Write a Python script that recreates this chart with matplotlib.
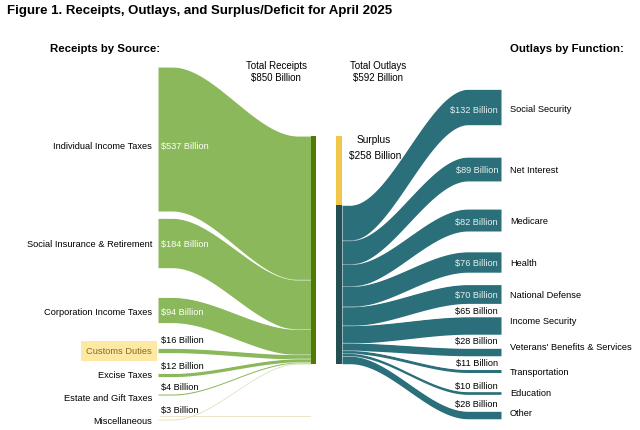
import matplotlib.pyplot as plt
import numpy as np

plt.rcParams["font.family"] = ["Liberation Sans", "DejaVu Sans"]

# Receipts by source, $ billions
receipt_names = [
    "Individual Income Taxes",
    "Social Insurance & Retirement",
    "Corporation Income Taxes",
    "Customs Duties",
    "Excise Taxes",
    "Estate and Gift Taxes",
    "Miscellaneous",
]
receipt_vals = [537, 184, 94, 16, 12, 4, 3]

# Outlays by function, $ billions
outlay_names = [
    "Social Security",
    "Net Interest",
    "Medicare",
    "Health",
    "National Defense",
    "Income Security",
    "Veterans' Benefits & Services",
    "Transportation",
    "Education",
    "Other",
]
outlay_vals = [132, 89, 82, 76, 70, 65, 28, 11, 10, 28]

total_receipts = 850
total_outlays = 592
surplus = 258

# colours
GREEN = "#8cb85c"
GREEN_LIGHT = "#cfe0b6"
GREEN_DARK = "#4e7a05"
TEAL = "#2a6f7a"
TEAL_DARK = "#234e52"
YELLOW = "#f0c74a"

# layout (pixel-like coordinates, y downwards)
S = 228.0 / total_receipts  # px per $billion
bar_top = 137
left_node_x = 158
recv_bar_x = 311
out_bar_x = 342
right_node_x = 501
left_centers = [140, 244, 311, 351.5, 376, 395.5, 420.5]
left_label_y = [147, 245, 313, 352, 376, 399, 422]
left_value_y = [147, 245, 313, 341, 367, 388, 411]
right_centers = [108, 170, 221, 263, 295, 326.5, 353, 372, 394, 416]
right_label_y = [110, 171, 222, 264, 296, 322, 348, 373, 394, 414]
right_value_y = [111, 171, 223, 264, 296, 312, 342, 364, 387, 405]


def smooth(x, xa, xb, ya, yb):
    t = np.clip((x - xa) / (xb - xa), 0, 1)
    s = 3 * t ** 2 - 2 * t ** 3
    return ya + (yb - ya) * s


def band(ax, xs, xa, xb, y0, y1, h, color):
    top = smooth(xs, xa, xb, y0, y1)
    ax.fill_between(xs, top, top + h, color=color, lw=0, zorder=2)
    # faint seam between neighbouring flows
    ax.plot(xs, top, color="white", lw=0.35, alpha=0.7, zorder=2.5)


fig = plt.figure(figsize=(6.4, 4.31), dpi=100)
ax = fig.add_axes([0, 0, 1, 1])
ax.set_xlim(0, 640)
ax.set_ylim(431, 0)
ax.axis("off")

# receipts flows
xs = np.linspace(left_node_x, recv_bar_x, 300)
y_bar = bar_top
for i, v in enumerate(receipt_vals):
    h = v * S
    col = GREEN_LIGHT if receipt_names[i] == "Miscellaneous" else GREEN
    band(ax, xs, 172, 298, left_centers[i] - h / 2, y_bar, max(h, 0.8), col)
    y_bar += h
ax.plot([160, 310], [417, 417], color="#eee5c8", lw=0.7, zorder=1)
ax.fill_between([recv_bar_x, recv_bar_x + 5], bar_top, bar_top + total_receipts * S,
                color=GREEN_DARK, lw=0, zorder=3)

# outlays bar
ax.fill_between([out_bar_x - 6, out_bar_x], bar_top, bar_top + surplus * S,
                color=YELLOW, lw=0, zorder=3)
ax.fill_between([out_bar_x - 6, out_bar_x], bar_top + surplus * S,
                bar_top + (surplus + total_outlays) * S, color=TEAL_DARK, lw=0, zorder=3)

# outlay flows
xs = np.linspace(out_bar_x, right_node_x, 300)
y_bar = bar_top + surplus * S
for j, v in enumerate(outlay_vals):
    h = v * S
    band(ax, xs, 350, 468, y_bar, right_centers[j] - h / 2, h, TEAL)
    y_bar += h

# titles
ax.text(7, 11, "Figure 1. Receipts, Outlays, and Surplus/Deficit for April 2025",
        fontsize=9.5, fontweight="bold", va="center", ha="left")
ax.text(105, 49, "Receipts by Source:", fontsize=8.2, fontweight="bold", ha="center", va="center")
ax.text(567, 49, "Outlays by Function:", fontsize=8.2, fontweight="bold", ha="center", va="center")
ax.text(276, 72, "Total Receipts\n$%d Billion" % total_receipts, fontsize=7, ha="center",
        va="center", linespacing=1.3)
ax.text(378, 72, "Total Outlays\n$%d Billion" % total_outlays, fontsize=7, ha="center",
        va="center", linespacing=1.3)
ax.text(374, 140, "Surplus", fontsize=7.3, ha="center", va="center")
ax.text(375, 156, "$%d Billion" % surplus, fontsize=7.3, ha="center", va="center")

# left labels
for i, name in enumerate(receipt_names):
    if name == "Customs Duties":
        ax.text(152, left_label_y[i], name, fontsize=6.7, ha="right", va="center",
                color="#8a6a1e",
                bbox=dict(boxstyle="square,pad=0.55", fc="#fde9a4", ec="none"))
    else:
        ax.text(152, left_label_y[i], name, fontsize=6.7, ha="right", va="center")
    white = receipt_vals[i] * S > 15
    ax.text(161, left_value_y[i], "$%d Billion" % receipt_vals[i], fontsize=6.6,
            ha="left", va="center", color="white" if white else "black", zorder=4)

# right labels
for j, name in enumerate(outlay_names):
    ax.text(510, right_label_y[j], name, fontsize=6.7, ha="left", va="center")
    white = j < 5
    ax.text(498, right_value_y[j], "$%d Billion" % outlay_vals[j], fontsize=6.6,
            ha="right", va="center", color="#e8f0f0" if white else "black", zorder=4)

fig.savefig("out.png", dpi=100)
